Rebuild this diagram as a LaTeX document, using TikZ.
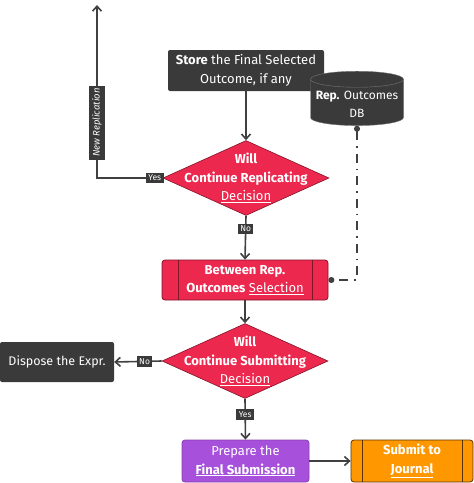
\documentclass[tikz,border=0pt]{standalone}
\usepackage{fontspec}
\setmainfont{Fira Sans}
\usetikzlibrary{arrows.meta,shapes.geometric}
\definecolor{boxgray}{RGB}{58,58,58}
\definecolor{decred}{RGB}{236,40,78}
\definecolor{decedge}{RGB}{130,20,40}
\definecolor{prepurple}{RGB}{166,80,219}
\definecolor{suborange}{RGB}{255,152,0}
\definecolor{subedge}{RGB}{90,50,0}
\definecolor{linegray}{RGB}{64,64,64}
\def\flowfont{\fontsize{13}{18.5}\selectfont}
\tikzset{
	darkbox/.style={rectangle, rounded corners=2pt, fill=boxgray, text=white, align=center, font=\flowfont},
	dbstore/.style={cylinder, shape border rotate=90, aspect=0.18, fill=boxgray, draw=boxgray!70!white, text=white, align=center, font=\fontsize{12}{18}\selectfont, minimum width=93pt, minimum height=47pt},
	decision/.style={diamond, fill=decred, draw=decedge, line width=0.6pt, minimum width=166pt, minimum height=75pt, inner sep=0pt},
	dectext/.style={text=white, align=center, font=\flowfont},
	procbox/.style={rectangle, rounded corners=3pt, text=white, align=center, font=\flowfont, line width=0.8pt},
	tag/.style={fill=boxgray, text=white, inner sep=2.4pt, font=\fontsize{8.5}{9}\selectfont},
	flow/.style={draw=linegray, line width=1.6pt, -{Straight Barb[length=5pt,width=9pt]}},
	dbline/.style={draw=linegray, line width=1.3pt, dash pattern=on 9pt off 6pt on 1.5pt off 6pt, {Circle[length=6pt]}-{Circle[length=6pt]}}
}

\begin{document}
\begin{tikzpicture}[x=1pt,y=-1pt]
		%%%%% START %%%%%
		\useasboundingbox (0,0) rectangle (474,483);
		
		\node[darkbox, minimum width=156pt, minimum height=41pt] (store) at (246,70.5) {\textbf{Store} the Final Selected\\Outcome, if any};
		\node[dbstore] (db) at (357,104) {\textbf{Rep.} Outcomes\\DB};
		
		\node[decision, label={[dectext]center:{\textbf{Will}\\\textbf{Continue Replicating}\\\underline{Decision}}}] (rep) at (246,178) {};
		\coordinate (newrep) at (97,5);
		
		\node[procbox, fill=decred, draw=decedge, minimum width=166pt, minimum height=40pt] (sel) at (245,280) {\textbf{Between Rep.}\\\textbf{Outcomes} \underline{Selection}};
		\draw[decedge, line width=0.8pt] ([xshift=17pt]sel.north west) -- ([xshift=17pt]sel.south west);
		\draw[decedge, line width=0.8pt] ([xshift=-16pt]sel.north east) -- ([xshift=-16pt]sel.south east);
		
		\node[decision, label={[dectext]center:{\textbf{Will}\\\textbf{Continue Submitting}\\\underline{Decision}}}] (sub) at (245,361) {};
		\node[darkbox, minimum width=114pt, minimum height=40pt, font=\fontsize{12.5}{18}\selectfont] (dispose) at (57,362) {Dispose the Expr.};
		
		\node[procbox, fill=prepurple, draw=prepurple!80!black, minimum width=127pt, minimum height=42pt] (prep) at (245.5,461) {Prepare the\\\textbf{\underline{Final Submission}}};
		\node[procbox, fill=suborange, draw=subedge, minimum width=122pt, minimum height=42pt] (journal) at (412,461) {\textbf{Submit to}\\\textbf{\underline{Journal}}};
		\draw[subedge, line width=0.8pt] ([xshift=12pt]journal.north west) -- ([xshift=12pt]journal.south west);
		\draw[subedge, line width=0.8pt] ([xshift=-11pt]journal.north east) -- ([xshift=-11pt]journal.south east);
		
		% connectors
		\draw[flow] (store) -- (rep);
		\draw[flow] (rep.west) -| (newrep) node[tag, pos=0.06] {Yes} node[tag, rotate=90, pos=0.66, inner sep=2.8pt, font=\fontsize{9.5}{10}\selectfont] {\itshape New Replication};
		\draw[flow] (rep.south) -- (sel.north) node[tag, pos=0.3] {No};
		\draw[dbline] (db.south) |- (sel.east);
		\draw[flow] (sel.south) -- (sub.north);
		\draw[flow] (sub.west) -- (dispose.east) node[tag, pos=0.36] {No};
		\draw[flow] (sub.south) -- (prep.north) node[tag, pos=0.39] {Yes};
		\draw[flow] (prep.east) -- (journal.west);
		
		%%%%% END %%%%%
\end{tikzpicture}
\end{document}
